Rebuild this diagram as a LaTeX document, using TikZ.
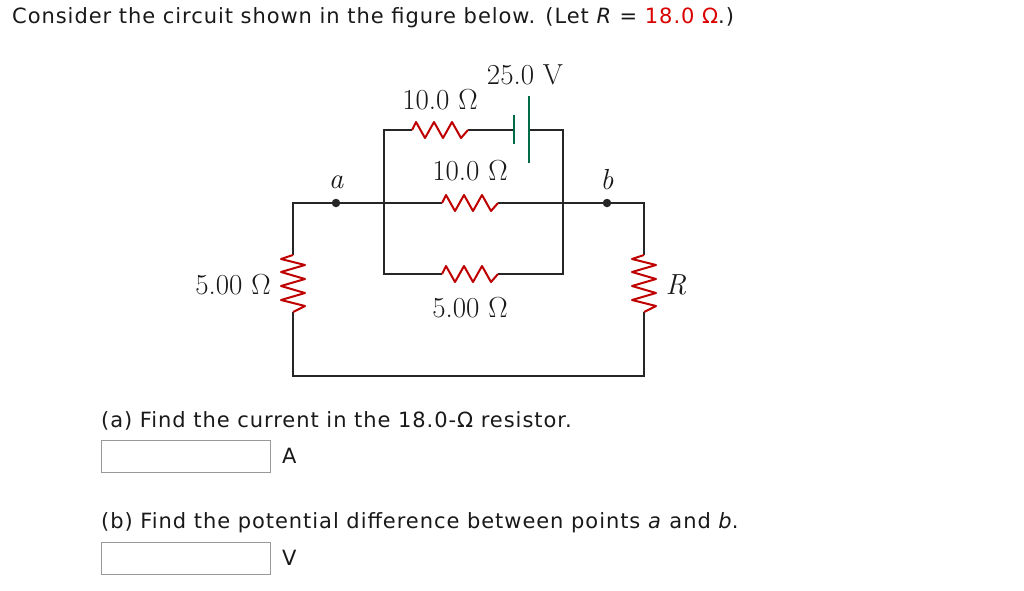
\documentclass[tikz,border=0pt]{standalone}
\usepackage{fontspec}
\setsansfont{DejaVu Sans}[LetterSpace=4.5]
\begin{document}
\begin{tikzpicture}[x=1pt,y=-1pt,
  wire/.style={line width=1.6pt,black!85},
  res/.style={line width=2pt,red!75!black,line join=round},
  plate/.style={line width=2.4pt,teal!80!green!70!black},
  lab/.style={font=\fontsize{29}{29}\selectfont,text=black!90,inner sep=0pt},
  txt/.style={font=\sffamily\fontsize{21}{24}\selectfont,anchor=west,text=black!90,inner sep=0pt},
  ansbox/.style={draw=black!40,line width=0.9pt,minimum width=169pt,minimum height=32pt,inner sep=0pt},
  hres/.pic={\draw[res] (0,0)--(4,-8)--(13,8)--(22,-8)--(31,8)--(40,-8)--(49,8)--(56,0);},
  vres/.pic={\draw[res] (0,0)--(-12,4)--(12,10)--(-12,17)--(12,24)--(-12,31)--(12,38)--(-12,45)--(12,51)--(0,57);}
]
\useasboundingbox (0,0) rectangle (1024,590);
\node[txt] (q) at (12,18) {Consider the circuit shown in the figure below. (Let \emph{R} = \textcolor{red!85!black}{18.0 Ω}.)};
\coordinate (TL) at (293,203); \coordinate (BL) at (293,376);
\coordinate (TR) at (644,203); \coordinate (BR) at (644,376);
\coordinate (IL) at (384,203); \coordinate (IR) at (563,203);
\coordinate (ILt) at (384,130); \coordinate (IRt) at (563,130);
\coordinate (ILb) at (384,274); \coordinate (IRb) at (563,274);
\coordinate (r1a) at (412,130); \coordinate (r1b) at (468,130);
\coordinate (bs) at (514,130); \coordinate (bl) at (529,130);
\coordinate (r2a) at (442,203); \coordinate (r2b) at (498,203);
\coordinate (r3a) at (442,274); \coordinate (r3b) at (498,274);
\coordinate (rla) at (293,255); \coordinate (rlb) at (293,312);
\coordinate (rra) at (644,255); \coordinate (rrb) at (644,312);
\node[circle,fill=black!85,inner sep=0pt,minimum size=8.5pt] (a) at (336,203) {};
\node[circle,fill=black!85,inner sep=0pt,minimum size=8.5pt] (b) at (607,203) {};
\draw[wire] (rla) -- (TL) -- (a) -- (IL) -- (r2a);
\draw[wire] (r2b) -- (IR) -- (b) -- (TR) -- (rra);
\draw[wire] (rrb) -- (BR) -- (BL) -- (rlb);
\draw[wire] (IL) -- (ILt) -- (r1a); \draw[wire] (r1b) -- (bs);
\draw[wire] (bl) -- (IRt) -- (IR);
\draw[wire] (IL) -- (ILb) -- (r3a); \draw[wire] (r3b) -- (IRb) -- (IR);
\pic at (r1a) {hres}; \pic at (r2a) {hres}; \pic at (r3a) {hres};
\pic at (rla) {vres}; \pic at (rra) {vres};
\draw[plate] (514,115) -- (514,144);
\draw[plate] (529,96) -- (529,163);
\node[lab] (lv) at (525,75) {25.0 V};
\node[lab] (l1) at (440,100) {10.0 Ω};
\node[lab] (l2) at (470,171) {10.0 Ω};
\node[lab] (l3) at (470,308) {5.00 Ω};
\node[lab] (l4) at (233,285) {5.00 Ω};
\node[lab] (lR) at (676,285) {\itshape R};
\node[lab] (la) at (336,182) {\itshape a};
\node[lab] (lb) at (607,180) {\itshape b};
\node[txt] (qa) at (101,421) {(a) Find the current in the 18.0-Ω resistor.};
\node[ansbox] (boxa) at (186,456) {};
\node[txt] (ua) at (282,456) {A};
\node[txt] (qb) at (101,523) {(b) Find the potential difference between points \emph{a} and \emph{b}.};
\node[ansbox] (boxb) at (186,558) {};
\node[txt] (ub) at (282,558) {V};
\end{tikzpicture}
\end{document}
